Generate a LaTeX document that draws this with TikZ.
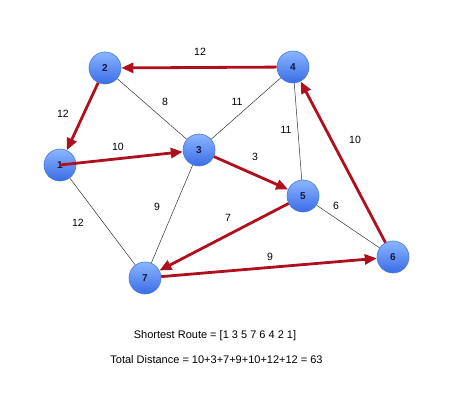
\documentclass[tikz,border=0pt]{standalone}
\usepackage{fontspec}
\setmainfont{Liberation Sans}
\usetikzlibrary{arrows.meta}
\definecolor{ntop}{HTML}{8AB6FF}
\definecolor{nbot}{HTML}{3A6CE6}
\definecolor{nline}{HTML}{4A7ADC}
\definecolor{routec}{HTML}{B0101E}
\definecolor{ntext}{HTML}{14183A}
\begin{document}
\begin{tikzpicture}[x=1pt,y=-1pt,
  vert/.style={circle,minimum size=32pt,inner sep=0pt,top color=ntop,bottom color=nbot,draw=nline,line width=0.6pt,font=\fontsize{10}{11}\selectfont\bfseries,text=ntext},
  plain/.style={draw=black!80,line width=0.5pt},
  route/.style={draw=routec,line width=2.8pt,-{Triangle[length=12pt,width=10pt]}},
  wt/.style={font=\fontsize{10.5}{12}\selectfont,inner sep=0pt},
  caption/.style={font=\fontsize{11}{13}\selectfont,inner sep=0pt}]
\useasboundingbox (0,0) rectangle (474,401);
% vertices
\node[vert] (n1) at (60,165) {1};
\node[vert] (n2) at (105,68) {2};
\node[vert] (n3) at (199,150) {3};
\node[vert] (n4) at (293,67) {4};
\node[vert] (n5) at (303,196) {5};
\node[vert] (n6) at (393,257) {6};
\node[vert] (n7) at (145,278) {7};
% plain edges
\draw[plain] (n1) -- (n7);
\draw[plain] (n2) -- (n3);
\draw[plain] (n3) -- (n4);
\draw[plain] (n3) -- (n7);
\draw[plain] (n4) -- (n5);
\draw[plain] (n5) -- (n6);
% route
\draw[route] (n4) -- (n2);
\draw[route] (n2) -- (n1);
\draw[route] (n1.center) -- (n3);
\draw[route] (n3) -- (n5);
\draw[route] (n5) -- (n7);
\draw[route] (n7) -- (n6);
\draw[route] (n6) -- (n4);
% weights
\node[wt] (w42) at (200,52) {12};
\node[wt] (w21) at (63,114) {12};
\node[wt] (w23) at (165,102) {8};
\node[wt] (w34) at (237,102) {11};
\node[wt] (w13) at (118,147) {10};
\node[wt] (w45) at (286,130) {11};
\node[wt] (w64) at (355,140) {10};
\node[wt] (w35) at (255,157) {3};
\node[wt] (w37) at (157,207) {9};
\node[wt] (w17) at (78,223) {12};
\node[wt] (w57) at (228,218) {7};
\node[wt] (w56) at (336,206) {6};
\node[wt] (w76) at (270,257) {9};
% captions
\node[caption] (route) at (215,336) {Shortest Route = [1 3 5 7 6 4 2 1]};
\node[caption] (total) at (216.5,360) {Total Distance = 10+3+7+9+10+12+12 = 63};
\end{tikzpicture}
\end{document}
